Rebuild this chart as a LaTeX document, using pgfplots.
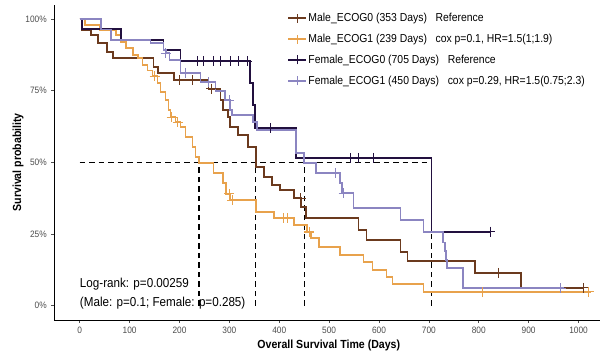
\documentclass[border=0pt]{standalone}
\usepackage{fontspec}
\setmainfont{Liberation Sans}[FakeStretch=0.9]
\usepackage{pgfplots}
\pgfplotsset{compat=1.18}
\definecolor{cMA}{HTML}{6B3A1E}
\definecolor{cMB}{HTML}{E8A24C}
\definecolor{cFA}{HTML}{22103F}
\definecolor{cFB}{HTML}{8B85C1}
\definecolor{tickgray}{HTML}{4D4D4D}
\pgfplotsset{
  kmkey/.style={legend image code/.code={
    \draw[draw=#1, line width=1.8bp] (0bp,0bp) -- (18bp,0bp);
    \draw[draw=#1, line width=1.1bp] (9bp,-4.5bp) -- (9bp,4.5bp);
  }}
}
\begin{document}
\begin{tikzpicture}
\begin{axis}[
  name=ax,
  scale only axis,
  width=545.7bp, height=315.4bp,
  xmin=-51, xmax=1043, ymin=-0.05, ymax=1.05,
  axis x line*=bottom, axis y line*=left,
  axis line style={-, line width=0.8bp, black},
  tick align=outside, major tick length=3bp,
  tick style={line width=0.6bp, tickgray},
  xtick={0,100,...,1000},
  ytick={0,0.25,0.5,0.75,1},
  yticklabels={0\%,25\%,50\%,75\%,100\%},
  /pgf/number format/assume math mode=true,
  /pgf/number format/1000 sep={},
  ticklabel style={font=\fontsize{9.3}{11}\selectfont, text=tickgray},
  xticklabel style={yshift=-1bp},
  yticklabel style={xshift=-1bp},
  xlabel={\textbf{Overall Survival Time (Days)}},
  ylabel={\textbf{Survival probability}},
  xlabel style={at={(axis description cs:0.503,-0.082)}, anchor=center, font=\fontsize{11.8}{14}\selectfont},
  ylabel style={at={(axis description cs:-0.0665,0.5)}, anchor=center, rotate=0, font=\fontsize{11.8}{14}\selectfont},
  legend cell align=left,
  legend style={draw=none, fill=none, at={(axis description cs:0.4264,0.978)}, anchor=north west,
    font=\fontsize{11.6}{13}\selectfont, row sep=8bp, inner sep=0pt,
    nodes={inner sep=1.5bp}},
  clip=false,
]
% dashed median lines
\addplot[forget plot, black, line width=1.2bp, dash pattern=on 5.5bp off 4bp] coordinates {(0,0.5) (705,0.5)};
\addplot[forget plot, black, line width=1.2bp, dash pattern=on 5.5bp off 4bp] coordinates {(239,0) (239,0.5)};
\addplot[forget plot, black, line width=1.2bp, dash pattern=on 5.5bp off 4bp] coordinates {(353,0) (353,0.5)};
\addplot[forget plot, black, line width=1.2bp, dash pattern=on 5.5bp off 4bp] coordinates {(450,0) (450,0.5)};
\addplot[forget plot, black, line width=1.2bp, dash pattern=on 5.5bp off 4bp] coordinates {(705,0) (705,0.5)};

% Male_ECOG0
\addplot[const plot, color=cMA, line width=1.8bp, mark=none, kmkey=cMA] coordinates {
(0,1) (5,0.961) (22,0.944) (36,0.916) (55,0.885) (66,0.864) (148,0.832) (157,0.812)
(189,0.787) (258,0.757) (282,0.717) (288,0.682) (297,0.657) (302,0.623) (318,0.595)
(338,0.553) (353,0.484) (369,0.449) (386,0.421) (402,0.403) (429,0.375) (443,0.344)
(453,0.306) (559,0.264) (575,0.229) (643,0.187) (657,0.156) (793,0.114) (884,0.062) (1010,0.062)};
\addlegendentry{Male\_ECOG0 (353 Days)\hspace{0.75em}Reference}
% Male_ECOG1
\addplot[const plot, color=cMB, line width=1.8bp, mark=none, kmkey=cMB] coordinates {
(0,1) (10,0.98) (40,0.961) (72,0.943) (82,0.92) (92,0.90) (106,0.874) (116,0.864)
(126,0.84) (136,0.82) (146,0.80) (156,0.776) (162,0.745) (172,0.717) (178,0.682)
(182,0.657) (192,0.64) (202,0.623) (212,0.588) (226,0.553) (232,0.518) (239,0.497)
(268,0.463) (288,0.428) (294,0.39) (302,0.368) (353,0.326) (389,0.305) (429,0.281)
(456,0.257) (463,0.235) (479,0.205) (521,0.177) (569,0.152) (587,0.125) (615,0.10)
(627,0.076) (689,0.048) (1024,0.048)};
\addlegendentry{Male\_ECOG1 (239 Days)\hspace{0.75em}cox p=0.1, HR=1.5(1;1.9)}
% Female_ECOG0
\addplot[const plot, color=cFA, line width=1.8bp, mark=none, kmkey=cFA] coordinates {
(0,1) (5,0.965) (82,0.927) (168,0.892) (202,0.853) (342,0.777) (348,0.70) (352,0.62)
(433,0.515) (705,0.258) (823,0.258)};
\addlegendentry{Female\_ECOG0 (705 Days)\hspace{0.75em}Reference}
% Female_ECOG1
\addplot[const plot, color=cFB, line width=1.8bp, mark=none, kmkey=cFB] coordinates {
(0,1) (42,0.963) (62,0.927) (142,0.916) (168,0.892) (174,0.88) (180,0.857) (202,0.812)
(242,0.78) (272,0.748) (292,0.717) (302,0.682) (306,0.665) (348,0.64) (356,0.613)
(433,0.532) (450,0.497) (473,0.463) (521,0.428) (526,0.392) (549,0.34) (643,0.299)
(689,0.256) (729,0.22) (732,0.19) (735,0.16) (737,0.131) (768,0.061) (970,0.061)};
\addlegendentry{Female\_ECOG1 (450 Days)\hspace{0.75em}cox p=0.29, HR=1.5(0.75;2.3)}

% censor marks
\addplot[forget plot, only marks, mark=+, mark size=5bp, cMA, mark options={line width=1.1bp}] coordinates {
(200,0.787) (226,0.787) (264,0.757) (443,0.375) (840,0.114) (1010,0.062)};
\addplot[forget plot, only marks, mark=+, mark size=5bp, cMB, mark options={line width=1.1bp}] coordinates {
(150,0.80) (184,0.657) (196,0.64) (300,0.39) (306,0.368) (409,0.305) (416,0.305)
(460,0.257) (808,0.048) (1020,0.048)};
\addplot[forget plot, only marks, mark=+, mark size=5bp, cFA, mark options={line width=1.1bp}] coordinates {
(236,0.853) (248,0.853) (268,0.853) (282,0.853) (302,0.853) (318,0.853) (336,0.853)
(382,0.62) (543,0.515) (559,0.515) (589,0.515) (823,0.258)};
\addplot[forget plot, only marks, mark=+, mark size=5bp, cFB, mark options={line width=1.1bp}] coordinates {
(172,0.88) (212,0.812) (258,0.78) (300,0.717) (513,0.463) (529,0.392) (964,0.061)};

\node[anchor=base west, inner sep=0pt, font=\fontsize{13}{15}\selectfont] at (axis cs:0,0.063) {Log-rank: p=0.00259};
\node[anchor=base west, inner sep=0pt, font=\fontsize{13}{15}\selectfont] at (axis cs:0,-0.003) {(Male: p=0.1; Female: p=0.285)};
\end{axis}
\pgfresetboundingbox
\path[use as bounding box] ([shift={(-54.3bp,-40bp)}]ax.south west) rectangle ++(600bp,360bp);
\end{tikzpicture}
\end{document}
